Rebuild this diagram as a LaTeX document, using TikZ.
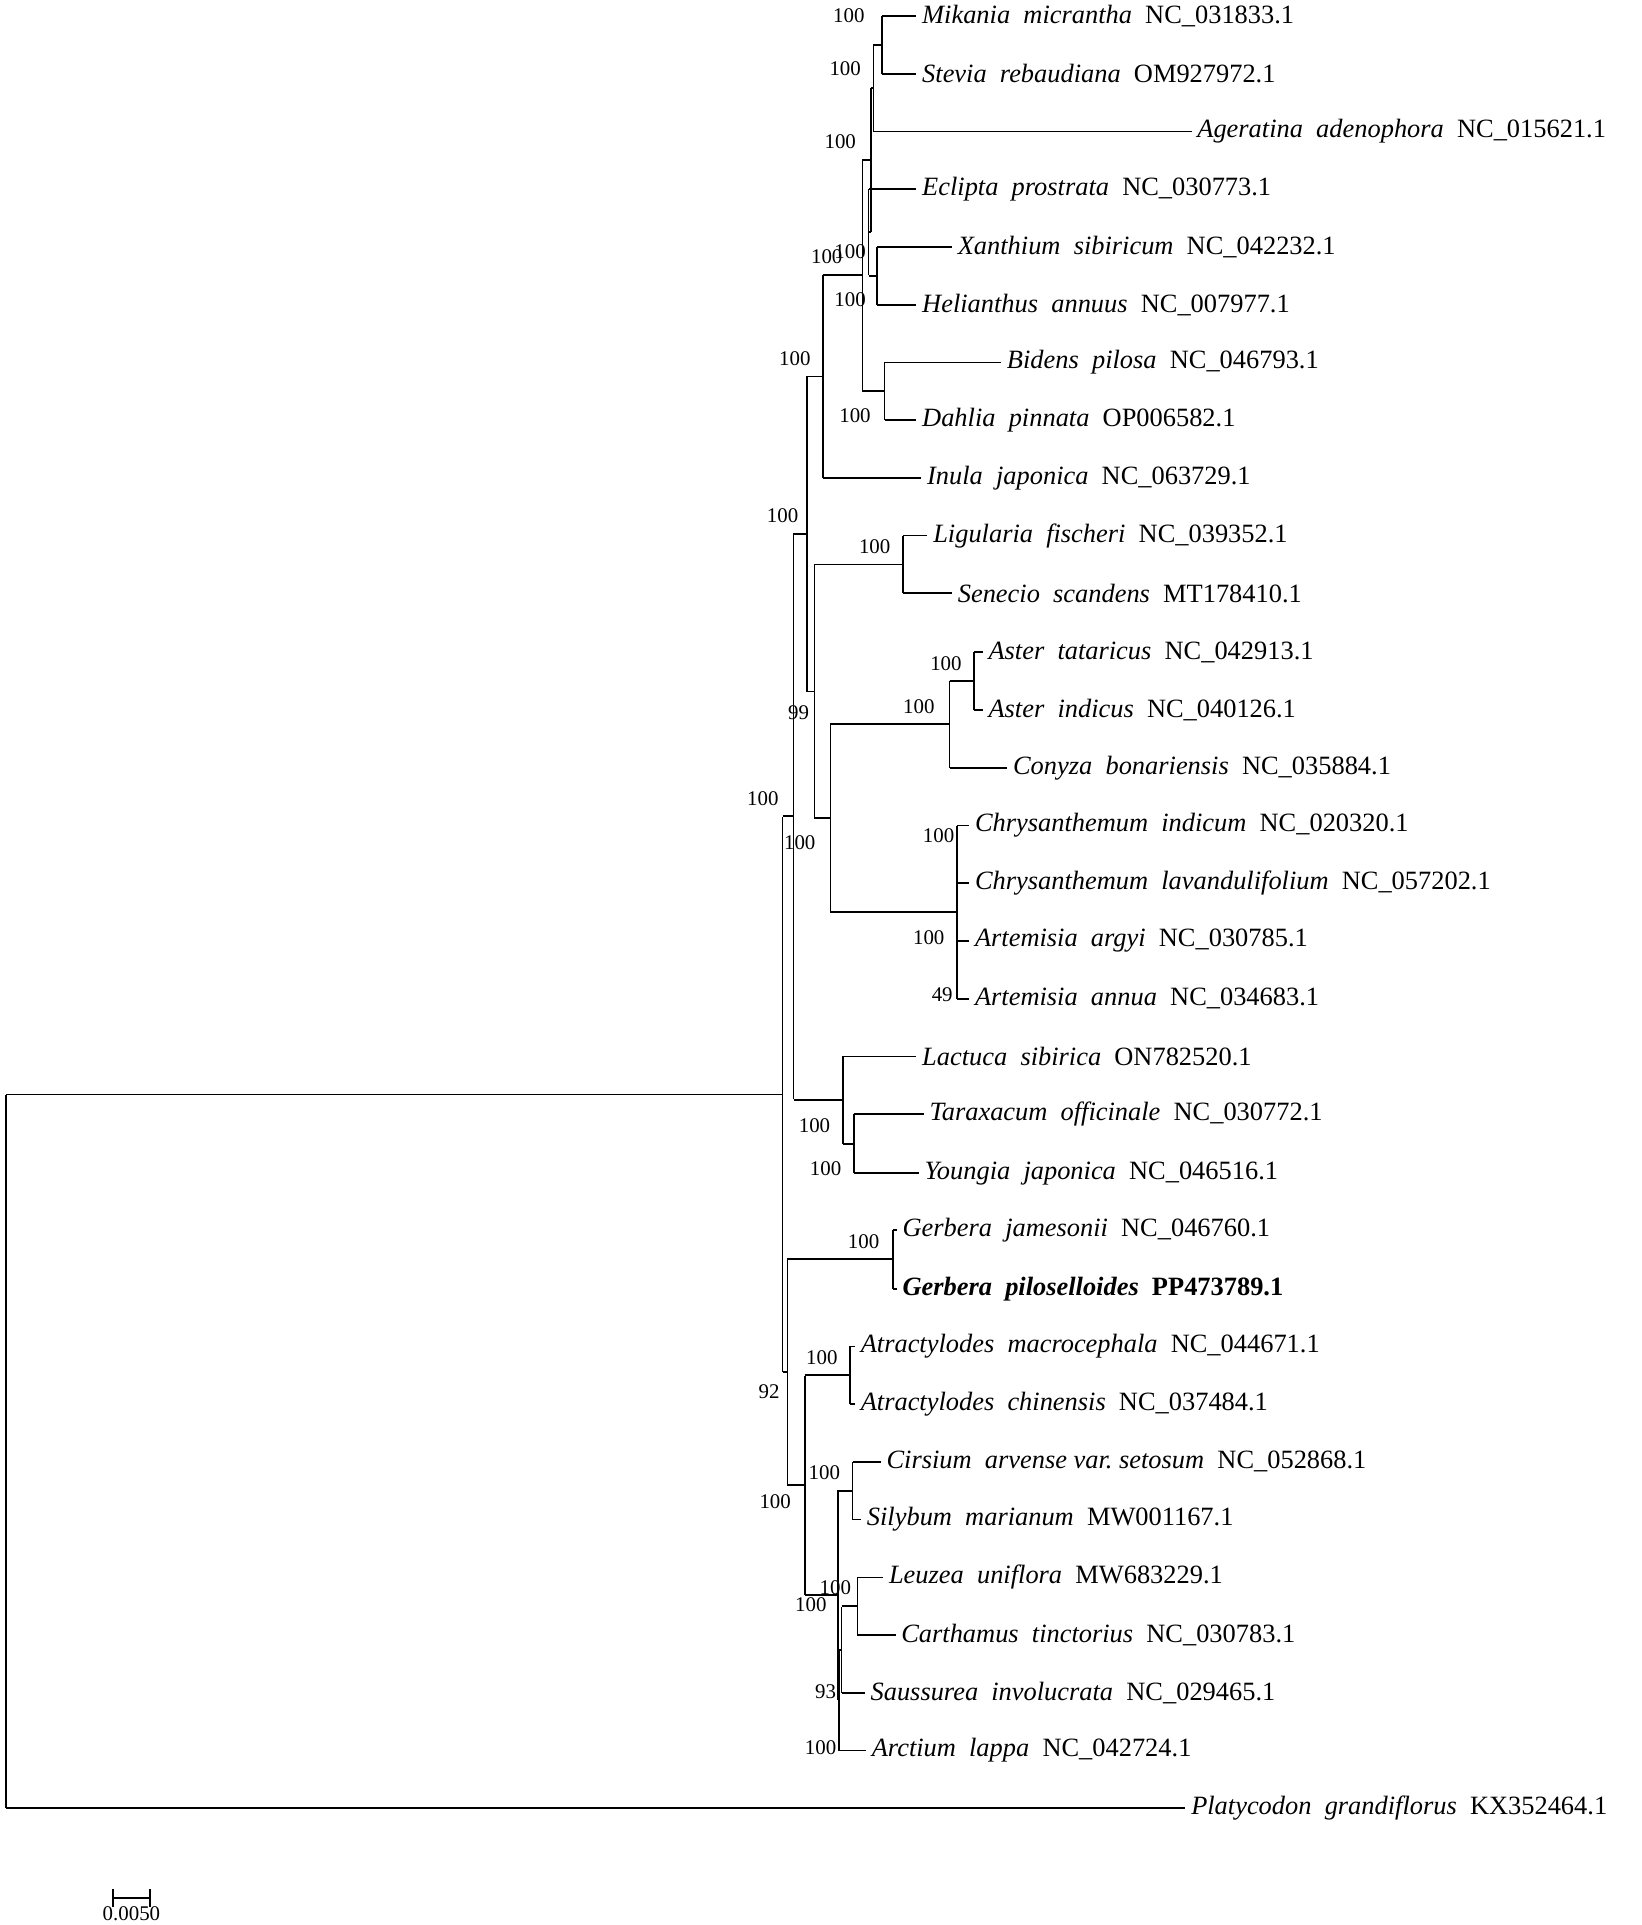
\documentclass[tikz,border=0pt]{standalone}
\usepackage{fontspec}
\setmainfont{Liberation Serif}
\begin{document}
\begin{tikzpicture}[x=1pt,y=-1pt,line width=1.4pt,
 leaf/.style={anchor=west,inner sep=0pt,font=\fontsize{21.5}{23}\selectfont},
 bs/.style={inner sep=0pt,font=\fontsize{17}{18}\selectfont}]
\useasboundingbox (0,0) rectangle (1336,1567);
\foreach \n/\px/\ex/\y/\t in {
 1/718/746/13/{\textit{Mikania\ \ micrantha}\ \ NC\_031833.1},
 2/718/746/60/{\textit{Stevia\ \ rebaudiana}\ \ OM927972.1},
 3/711/970/107/{\textit{Ageratina\ \ adenophora}\ \ NC\_015621.1},
 4/707/746/154/{\textit{Eclipta\ \ prostrata}\ \ NC\_030773.1},
 5/714/775/201/{\textit{Xanthium\ \ sibiricum}\ \ NC\_042232.1},
 6/714/746/248/{\textit{Helianthus\ \ annuus}\ \ NC\_007977.1},
 7/720/815/295/{\textit{Bidens\ \ pilosa}\ \ NC\_046793.1},
 8/720/746/342/{\textit{Dahlia\ \ pinnata}\ \ OP006582.1},
 9/670/750/389/{\textit{Inula\ \ japonica}\ \ NC\_063729.1},
 10/735/755/436/{\textit{Ligularia\ \ fischeri}\ \ NC\_039352.1},
 11/735/775/483/{\textit{Senecio\ \ scandens}\ \ MT178410.1},
 12/793/800/531/{\textit{Aster\ \ tataricus}\ \ NC\_042913.1},
 13/793/800/578/{\textit{Aster\ \ indicus}\ \ NC\_040126.1},
 14/773/820/625/{\textit{Conyza\ \ bonariensis}\ \ NC\_035884.1},
 15/779/789/672/{\textit{Chrysanthemum\ \ indicum}\ \ NC\_020320.1},
 16/779/789/719/{\textit{Chrysanthemum\ \ lavandulifolium}\ \ NC\_057202.1},
 17/779/789/766/{\textit{Artemisia\ \ argyi}\ \ NC\_030785.1},
 18/779/789/813/{\textit{Artemisia\ \ annua}\ \ NC\_034683.1},
 19/686/746/860/{\textit{Lactuca\ \ sibirica}\ \ ON782520.1},
 20/695/752/907/{\textit{Taraxacum\ \ officinale}\ \ NC\_030772.1},
 21/695/748/955/{\textit{Youngia\ \ japonica}\ \ NC\_046516.1},
 22/727/730/1001/{\textit{Gerbera\ \ jamesonii}\ \ NC\_046760.1},
 23/727/730/1049/{\textbf{\textit{Gerbera\ \ piloselloides}\ \ PP473789.1}},
 24/692/696/1096/{\textit{Atractylodes\ \ macrocephala}\ \ NC\_044671.1},
 25/692/696/1143/{\textit{Atractylodes\ \ chinensis}\ \ NC\_037484.1},
 26/694/717/1190/{\textit{Cirsium\ \ arvense\ var.\ setosum}\ \ NC\_052868.1},
 27/694/701/1237/{\textit{Silybum\ \ marianum}\ \ MW001167.1},
 28/698/719/1284/{\textit{Leuzea\ \ uniflora}\ \ MW683229.1},
 29/698/729/1331/{\textit{Carthamus\ \ tinctorius}\ \ NC\_030783.1},
 30/685/704/1378/{\textit{Saussurea\ \ involucrata}\ \ NC\_029465.1},
 31/683/705/1425/{\textit{Arctium\ \ lappa}\ \ NC\_042724.1},
 32/5/965/1472/{\textit{Platycodon\ \ grandiflorus}\ \ KX352464.1}}
{
 \coordinate (e\n) at (\ex,\y);
 \node[leaf] (t\n) at (\ex+4,\y) {\t};
 \draw (\px,\y) -- (e\n);
}
\foreach \x/\ya/\yb/\p in {
 718/13/60/711, 711/36/107/709, 714/201/248/707, 707/154/224/709,
 709/72/189/702, 720/295/342/702, 702/130/318/670, 670/224/389/657,
 735/436/483/663, 793/531/578/773, 773/554/625/676, 779/672/813/676,
 676/590/742/663, 663/460/666/657, 657/306/563/646, 695/907/955/686,
 686/860/931/646, 646/434/895/637, 727/1001/1049/641, 692/1096/1143/655,
 694/1190/1237/682, 698/1284/1331/685, 685/1308/1378/683, 683/1343/1425/682,
 682/1213/1384/655, 655/1120/1298/641, 641/1025/1209/637, 637/665/1117/5}
{
 \draw (\x,\ya) -- (\x,\yb);
 \draw (\p,{(\ya+\yb)/2}) -- (\x,{(\ya+\yb)/2});
}
\draw (5,891) -- (5,1472);
\foreach \x/\y/\t in {691/13/100,688/56/100,684/115/100,673/209/100,692/205/100,
 692/244/100,647/292/100,696/338/100,637/420/100,712/445/100,650/580/99,
 770/540/100,748/575/100,621/650/100,651/686/100,764/680/100,756/763/100,
 767/810/49,663/916/100,672/951/100,703/1011/100,669/1105/100,626/1133/92,
 671/1199/100,631/1222/100,680/1292/100,660/1306/100,672/1377/93,668/1423/100}
 \node[bs] (b\x-\y) at (\x,\y) {\t};
\coordinate (s1) at (92,1545); \coordinate (s2) at (122,1545);
\draw[line width=1.2pt] (s1) -- (s2) (92,1538) -- (92,1552) (122,1538) -- (122,1552);
\node[bs] (sl) at (107,1558) {0.0050};
\end{tikzpicture}
\end{document}
